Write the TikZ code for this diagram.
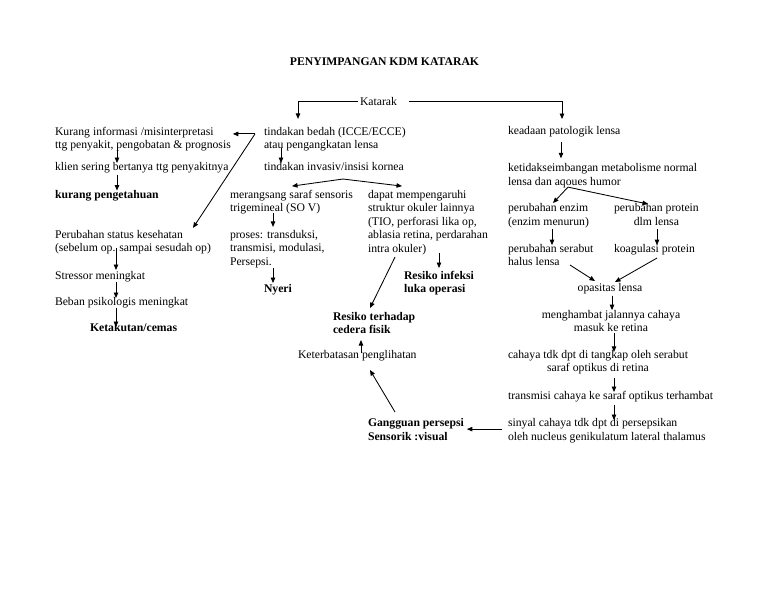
\documentclass[tikz,border=0pt]{standalone}
\usepackage{fontspec}
\setmainfont{Liberation Serif}
\usetikzlibrary{arrows.meta,calc}
\newcommand\txtblk[2][l]{\begin{tabular}[t]{@{}#1@{}}#2\end{tabular}}
\begin{document}
\begin{tikzpicture}[x=1pt,y=-1pt,
  every node/.style={inner sep=0pt,outer sep=0pt,font=\fontsize{11.7}{13.4}\selectfont},
  lbl/.style={anchor=base west},
  cbl/.style={anchor=base},
  bold/.style={font=\fontsize{11.7}{13.4}\selectfont\bfseries},
  arr/.style={-{Triangle[length=5.5pt,width=4.5pt]},line width=0.85pt}]
\fill[white] (0,0) rectangle (768,594);
\path[use as bounding box] (0,0) rectangle (768,594);

% column guides
\foreach \c in {116,117,193,273,281,292,298,361,370,395,402,439,552,553,561,562,570,595,612,614,615,648,657}
  {\coordinate (c\c) at (\c,0);}

% title
\node[cbl,bold] (title) at (384.5,65.7) {PENYIMPANGAN KDM KATARAK};
\node[lbl] (katarak) at (360,105) {\txtblk{Katarak}};

% left column
\node[lbl] (kur) at (55,135.3) {\txtblk{Kurang informasi /misinterpretasi\\ttg penyakit, pengobatan \& prognosis}};
\node[lbl] (klien) at (55,170.7) {\txtblk{klien sering bertanya ttg penyakitnya}};
\node[lbl,bold] (kpeng) at (55,198.3) {\txtblk{kurang pengetahuan}};
\node[lbl] (perub) at (55,238.3) {\txtblk{Perubahan status kesehatan\\(sebelum op. sampai sesudah op)}};
\node[lbl] (stres) at (55,279) {\txtblk{Stressor meningkat}};
\node[lbl] (beban) at (55,305.7) {\txtblk{Beban psikologis meningkat}};
\node[lbl,bold] (takut) at (90,331.7) {\txtblk{Ketakutan/cemas}};

% middle column
\node[lbl] (bedah) at (264,135.3) {\txtblk{tindakan bedah (ICCE/ECCE)\\atau pengangkatan lensa}};
\node[lbl] (invasiv) at (264,170.7) {\txtblk{tindakan invasiv/insisi kornea}};
\node[lbl] (rangsang) at (230,198.5) {\txtblk{merangsang saraf sensoris\\trigemineal (SO V)}};
\node[lbl] (proses) at (230,238.3) {\txtblk{proses: transduksi,\\transmisi, modulasi,\\Persepsi.}};
\node[lbl,bold] (nyeri) at (264,292) {\txtblk{Nyeri}};
\node[lbl] (dapat) at (368,198.5) {\txtblk{dapat mempengaruhi\\struktur okuler lainnya\\(TIO, perforasi lika op,\\ablasia retina, perdarahan\\intra okuler)}};
\node[lbl,bold] (infeksi) at (404,279) {\txtblk{Resiko infeksi\\luka operasi}};
\node[lbl,bold] (cedera) at (333,320) {\txtblk{Resiko terhadap\\cedera fisik}};
\node[lbl] (batas) at (298,358.3) {\txtblk{Keterbatasan penglihatan}};
\node[lbl,bold] (ganggu) at (368,426.7) {\txtblk{Gangguan persepsi\\Sensorik :visual}};

% right column
\node[lbl] (patol) at (508,134) {\txtblk{keadaan patologik lensa}};
\node[lbl] (metab) at (508,171.7) {\txtblk{ketidakseimbangan metabolisme normal\\lensa dan aqoues humor}};
\node[lbl] (enzim) at (508,211.7) {\txtblk{perubahan enzim\\(enzim menurun)}};
\node[lbl] (protein) at (614,211.7) {\txtblk[c]{perubahan protein\\dlm lensa}};
\node[lbl] (serabut) at (508,252.5) {\txtblk{perubahan serabut\\halus lensa}};
\node[lbl] (koag) at (614,252.5) {\txtblk{koagulasi protein}};
\node[cbl] (opas) at (610,291.7) {\txtblk{opasitas lensa}};
\node[cbl] (hambat) at (611,318.5) {\txtblk[c]{menghambat jalannya cahaya\\masuk ke retina}};
\node[lbl] (tangkap) at (508,358.3) {\txtblk[c]{cahaya tdk dpt di tangkap oleh serabut\\saraf optikus di retina}};
\node[lbl] (trans) at (508,399) {\txtblk{transmisi cahaya ke saraf optikus terhambat}};
\node[lbl] (sinyal) at (508,426.7) {\txtblk{sinyal cahaya tdk dpt di persepsikan\\oleh nucleus genikulatum lateral thalamus}};

% split points
\coordinate (v1) at ($(bedah.north west)+(-9,8)$);
\coordinate (s1) at ($(invasiv.south west)+(79,4.3)$);
\coordinate (s2) at ($(metab.south west)+(60,-2)$);

% connectors
\draw[arr] ($(katarak.west)+(-2,-1.3)$) -| ($(bedah.north -| c298)+(0,-7)$);
\draw[arr] ($(katarak.east)+(12,-1.3)$) -| ($(patol.north -| c562)+(0,-5.6)$);

\draw[arr] ($(kur.south -| c117)+(0,-6.7)$) -- ($(klien.north -| c117)+(0,1.7)$);
\draw[arr] (klien.south -| c117) -- ($(kpeng.north -| c117)+(0,1.6)$);
\draw[arr] (v1) -- ($(kur.east |- v1)+(2,0)$);
\draw[arr] (v1) -- ($(perub.north -| c193)+(0,-1)$);
\draw[arr] ($(perub.south -| c116)+(0,-7.7)$) -- ($(stres.north -| c116)+(0,0.4)$);
\draw[arr] ($(stres.south -| c116)+(0,-1)$) -- ($(beban.north -| c116)+(0,1.7)$);
\draw[arr] ($(beban.south -| c116)+(0,-1.7)$) -- ($(takut.north -| c116)+(0,4.7)$);

\draw[arr] ($(bedah.south -| c281)+(0,-4.7)$) -- ($(invasiv.north -| c281)+(0,1.7)$);
\draw[arr] (s1) -- ($(rangsang.north -| c292)+(0,-3)$);
\draw[arr] (s1) -- ($(dapat.north -| c402)+(0,-3)$);
\draw[arr] ($(rangsang.south -| c273)+(0,-3)$) -- ($(proses.north -| c273)+(0,-2)$);
\draw[arr] ($(proses.south -| c273)+(0,-1)$) -- ($(nyeri.north -| c273)+(0,0.4)$);
\draw[arr] ($(dapat.south -| c439)+(0,-3.4)$) -- ($(infeksi.north -| c439)+(0,-1.6)$);
\draw[arr] ($(dapat.south -| c395)+(0,1)$) -- ($(cedera.north -| c370)+(0,-2.6)$);
\draw[arr] ($(batas.north -| c361)+(0,4)$) -- ($(cedera.south -| c361)+(0,2.6)$);
\draw[arr] ($(ganggu.north -| c395)+(0,-5.3)$) -- ($(batas.south -| c370)+(0,7.7)$);
\draw[arr] ($(sinyal.west)+(-6,-1.6)$) -- ($(ganggu.east |- sinyal.west)+(3,-1.6)$);

\draw[arr] ($(patol.south -| c561)+(0,3.7)$) -- ($(metab.north -| c561)+(0,-4)$);
\draw[arr] (s2) -- ($(enzim.north -| c553)+(0,0.7)$);
\draw[arr] (s2) -- ($(protein.north -| c648)+(0,1.7)$);
\draw[arr] (enzim.south -| c552) -- ($(serabut.north -| c552)+(0,2)$);
\draw[arr] (protein.south -| c657) -- ($(koag.north -| c657)+(0,2)$);
\draw[arr] ($(serabut.south -| c570)+(0,-4.9)$) -- ($(opas.north -| c595)+(0,-1.3)$);
\draw[arr] ($(koag.south -| c657)+(0,1.5)$) -- ($(opas.north -| c615)+(0,-0.3)$);
\draw[arr] (opas.south -| c612) -- ($(hambat.north -| c612)+(0,1)$);
\draw[arr] ($(hambat.south -| c614)+(0,-3)$) -- ($(tangkap.north -| c614)+(0,3)$);
\draw[arr] ($(tangkap.south -| c614)+(0,2.3)$) -- ($(trans.north -| c614)+(0,2.4)$);
\draw[arr] ($(trans.south -| c614)+(0,2)$) -- ($(sinyal.north -| c614)+(0,2.7)$);
\end{tikzpicture}
\end{document}
